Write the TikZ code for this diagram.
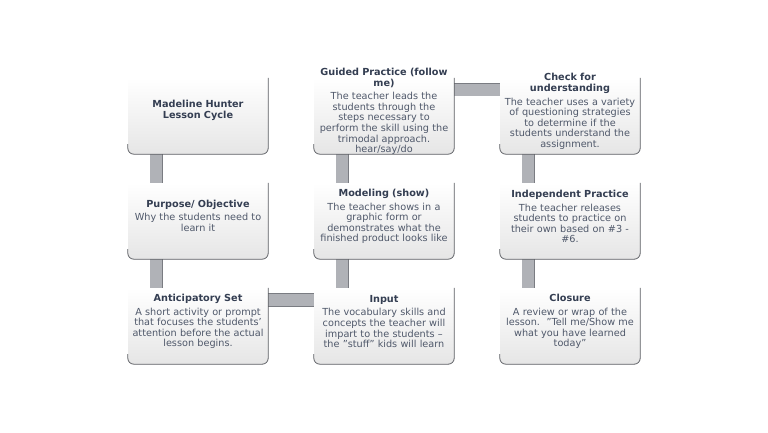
\documentclass[tikz,border=0pt]{standalone}
\usepackage{fontspec}
\setmainfont{DejaVu Sans}
\usetikzlibrary{calc}
\usetikzlibrary{positioning}
\definecolor{titleink}{HTML}{343E52}
\definecolor{bodyink}{HTML}{4F586A}
\definecolor{rimgray}{HTML}{5C5E63}
\definecolor{barfill}{HTML}{B0B2B7}
\definecolor{baredge}{HTML}{7A7C82}
\newcommand{\stagehead}[1]{{\bfseries\color{titleink}#1}\\[3pt]}

\begin{document}
\begin{tikzpicture}[
  x=1pt, y=-1pt,
  stage/.style={rounded corners=6pt, top color=white, middle color=black!2, bottom color=black!10,
    minimum width=140pt, minimum height=76pt, inner sep=0pt},
  stagetext/.style={text width=140pt, align=center, inner sep=0pt,
    font=\fontsize{9.7}{10.6}\selectfont, text=bodyink},
  rim/.style={draw=rimgray, line width=0.8pt, rounded corners=6pt},
  link/.style={draw=baredge, double=barfill, double distance=12pt, line width=0.7pt}
]

\useasboundingbox[fill=white] (0,0) rectangle (768,433);

% boxes
\node[stage] (mh)  at (198,116) {};
\node[stage] (gp)  at (384,116) {};
\node[stage] (cu)  at (570,116) {};

\node[stage] (po)  at (198,221) {};
\node[stage] (mo)  at (384,221) {};
\node[stage] (ip)  at (570,221) {};

\node[stage] (as)  at (198,326) {};
\node[stage] (inp) at (384,326) {};
\node[stage] (cl)  at (570,326) {};

% links
\draw[link] ($(mh.south west)+(28.5,0)$) -- ($(po.north west)+(28.5,0)$);
\draw[link] ($(po.south west)+(28.5,0)$) -- ($(as.north west)+(28.5,0)$);
\draw[link] ($(as.north east)+(0,12)$) -- ($(inp.north west)+(0,12)$);
\draw[link] ($(mo.south west)+(28.5,0)$) -- ($(inp.north west)+(28.5,0)$);
\draw[link] ($(gp.south west)+(28.5,0)$) -- ($(mo.north west)+(28.5,0)$);
\draw[link] ($(gp.north east)+(0,12)$) -- ($(cu.north west)+(0,12)$);
\draw[link] ($(cu.south west)+(28.5,0)$) -- ($(ip.north west)+(28.5,0)$);
\draw[link] ($(ip.south west)+(28.5,0)$) -- ($(cl.north west)+(28.5,0)$);

% rims
\foreach \b in {mh,gp,cu,po,mo,ip,as,inp,cl}
  \draw[rim] (\b.north east) -- (\b.south east) -- (\b.south west) -- ([yshift=10pt]\b.south west);

% texts
\node[stagetext] (mht) at ($(mh)+(0,-5.5)$) {{\bfseries\color{titleink}Madeline Hunter\\Lesson Cycle}};
\node[stagetext] (gpt) at ($(gp)+(0,-4.5)$) {\stagehead{Guided Practice (follow\\me)}The teacher leads the\\students through the\\steps necessary to\\perform the skill using the\\trimodal approach.\\hear/say/do};
\node[stagetext] (cut) at ($(cu)+(0,-4.5)$) {\stagehead{Check for\\understanding}The teacher uses a variety\\of questioning strategies\\to determine if the\\students understand the\\assignment.};

\node[stagetext] (pot) at ($(po)+(0,-5.5)$) {\stagehead{Purpose/ Objective}Why the students need to\\learn it};
\node[stagetext] (mot) at ($(mo)+(0,-4.5)$) {\stagehead{Modeling (show)}The teacher shows in a\\graphic form or\\demonstrates what the\\finished product looks like};
\node[stagetext] (ipt) at ($(ip)+(0,-4.5)$) {\stagehead{Independent Practice}The teacher releases\\students to practice on\\their own based on \#3 -\\\#6.};

\node[stagetext] (ast) at ($(as)+(0,-4.5)$) {\stagehead{Anticipatory Set}A short activity or prompt\\that focuses the students'\\attention before the actual\\lesson begins.};
\node[stagetext] (inpt) at ($(inp)+(0,-4.5)$) {\stagehead{Input}The vocabulary skills and\\concepts the teacher will\\impart to the students --\\the "stuff" kids will learn};
\node[stagetext] (clt) at ($(cl)+(0,-4.5)$) {\stagehead{Closure}A review or wrap of the\\lesson.\ \ "Tell me/Show me\\what you have learned\\today"};

\end{tikzpicture}
\end{document}
